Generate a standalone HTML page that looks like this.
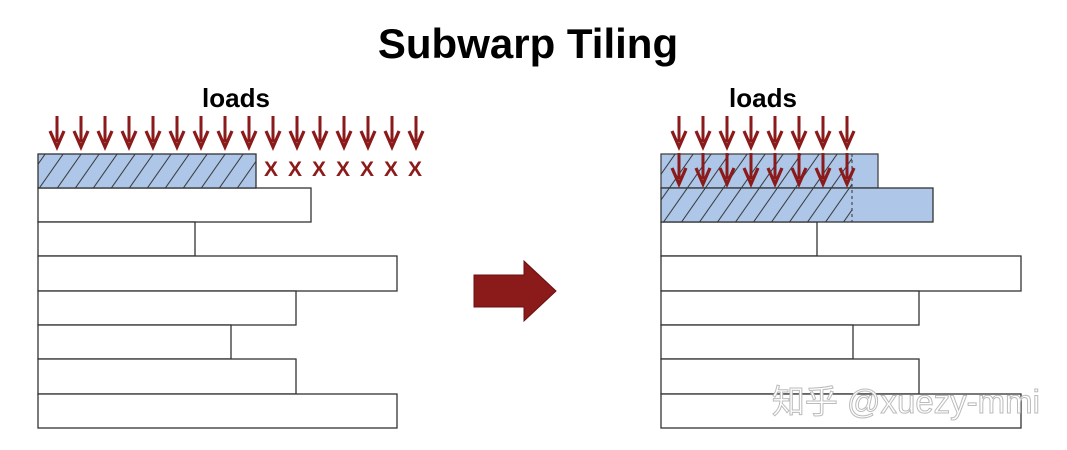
<!DOCTYPE html>
<html><head><meta charset="utf-8"><style>
html,body{margin:0;padding:0;background:#fff;width:1067px;height:450px;overflow:hidden}
</style></head><body>
<svg width="1067" height="450" xmlns="http://www.w3.org/2000/svg" font-family="Liberation Sans, sans-serif">
<defs>
<pattern id="h" patternUnits="userSpaceOnUse" width="18" height="34" patternTransform="skewX(-35)">
<line x1="9" y1="0" x2="9" y2="34" stroke="#333" stroke-width="1.2"/>
</pattern>
<g id="ar"><line x1="0" y1="0" x2="0" y2="26" stroke="#8b1a1a" stroke-width="3"/><path d="M-7,15 L0,31 L7,15" fill="none" stroke="#8b1a1a" stroke-width="3.2" stroke-linejoin="miter"/></g>
</defs>
<text x="528" y="58" text-anchor="middle" font-size="42" font-weight="bold" fill="#000">Subwarp Tiling</text>
<text x="236" y="107" text-anchor="middle" font-size="26" font-weight="bold">loads</text>
<text x="763" y="107" text-anchor="middle" font-size="26" font-weight="bold">loads</text>

<g stroke="#333" stroke-width="1.3" fill="#fff">
<rect x="38" y="188" width="273" height="34"/>
<rect x="38" y="222" width="157" height="34"/>
<rect x="38" y="256" width="359" height="35"/>
<rect x="38" y="291" width="258" height="34"/>
<rect x="38" y="325" width="193" height="34"/>
<rect x="38" y="359" width="258" height="35"/>
<rect x="38" y="394" width="359" height="34"/>
</g>
<rect x="38" y="154" width="218" height="34" fill="#aec6e8" stroke="#333" stroke-width="1.3"/>
<rect x="38" y="154" width="218" height="34" fill="url(#h)"/>
<g font-size="21" font-weight="bold" fill="#8b1a1a" text-anchor="middle">
<text x="271" y="176">X</text><text x="295" y="176">X</text><text x="319" y="176">X</text><text x="343" y="176">X</text><text x="367" y="176">X</text><text x="391" y="176">X</text><text x="415" y="176">X</text>
</g>
<g>
<use href="#ar" x="57" y="116"/><use href="#ar" x="81" y="116"/><use href="#ar" x="105" y="116"/><use href="#ar" x="129" y="116"/>
<use href="#ar" x="153" y="116"/><use href="#ar" x="177" y="116"/><use href="#ar" x="201" y="116"/><use href="#ar" x="225" y="116"/>
<use href="#ar" x="249" y="116"/><use href="#ar" x="273" y="116"/><use href="#ar" x="297" y="116"/><use href="#ar" x="320" y="116"/>
<use href="#ar" x="344" y="116"/><use href="#ar" x="368" y="116"/><use href="#ar" x="392" y="116"/><use href="#ar" x="416" y="116"/>
</g>

<path d="M474,275 L524,275 L524,261 L556,291 L524,321 L524,307 L474,307 Z" fill="#8b1a1a" stroke="#6a1010" stroke-width="1"/>

<g stroke="#333" stroke-width="1.3" fill="#fff">
<rect x="661" y="222" width="156" height="34"/>
<rect x="661" y="256" width="360" height="35"/>
<rect x="661" y="291" width="258" height="34"/>
<rect x="661" y="325" width="192" height="34"/>
<rect x="661" y="359" width="258" height="35"/>
<rect x="661" y="394" width="360" height="34"/>
</g>
<rect x="661" y="154" width="217" height="34" fill="#aec6e8" stroke="#444" stroke-width="1.3"/>
<rect x="661" y="188" width="272" height="34" fill="#aec6e8" stroke="#333" stroke-width="1.3"/>
<rect x="661" y="154" width="191" height="68" fill="url(#h)"/>
<line x1="852" y1="154" x2="852" y2="222" stroke="#333" stroke-width="1" stroke-dasharray="3,3"/>
<g>
<use href="#ar" x="679" y="116"/><use href="#ar" x="703" y="116"/><use href="#ar" x="727" y="116"/><use href="#ar" x="751" y="116"/>
<use href="#ar" x="775" y="116"/><use href="#ar" x="799" y="116"/><use href="#ar" x="823" y="116"/><use href="#ar" x="847" y="116"/>
<use href="#ar" x="679" y="153"/><use href="#ar" x="703" y="153"/><use href="#ar" x="727" y="153"/><use href="#ar" x="751" y="153"/>
<use href="#ar" x="775" y="153"/><use href="#ar" x="799" y="153"/><use href="#ar" x="823" y="153"/><use href="#ar" x="847" y="153"/>
</g>
<text x="1040" y="413" text-anchor="end" font-size="33" fill="#fff" stroke="#bbb" stroke-width="1" font-family="Liberation Sans, Noto Sans CJK SC, sans-serif">知乎 @xuezy-mmi</text>
</svg>
</body></html>
